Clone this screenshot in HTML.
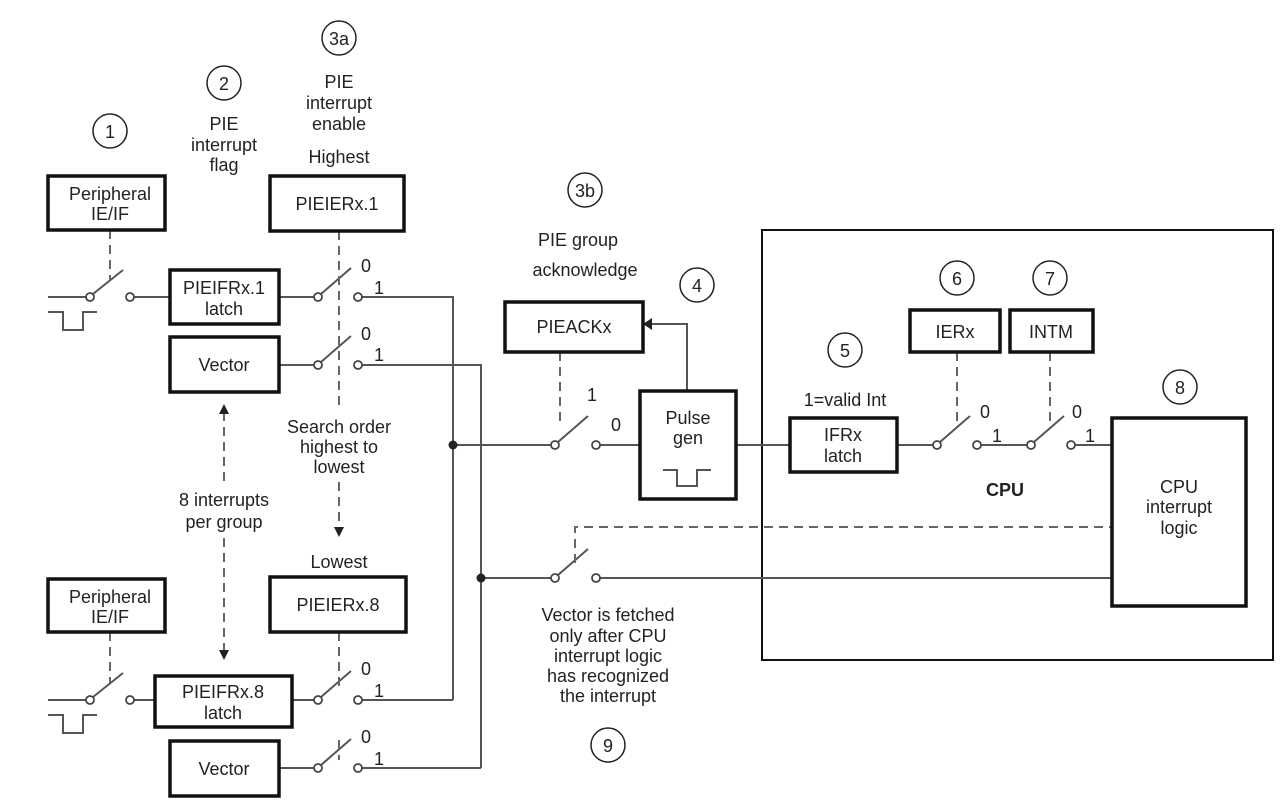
<!DOCTYPE html>
<html><head><meta charset="utf-8"><style>
html,body{margin:0;padding:0;background:#fff;}
svg{display:block;}
text{font-family:"Liberation Sans",sans-serif;font-size:18px;fill:#222;text-anchor:middle;}
.b{fill:#fff;stroke:#111;stroke-width:3.5;}
.l{stroke:#555;stroke-width:2;fill:none;}
.d{stroke:#666;stroke-width:2;fill:none;stroke-dasharray:9,6;}
.c{fill:#fff;stroke:#444;stroke-width:1.8;}
.n{fill:#fff;stroke:#222;stroke-width:1.5;}
</style></head><body>
<svg width="1286" height="805" viewBox="0 0 1286 805" xmlns="http://www.w3.org/2000/svg">
<g>
<circle class="n" cx="110" cy="131" r="17"/><text x="110" y="138">1</text>
<circle class="n" cx="224" cy="83" r="17"/><text x="224" y="90">2</text>
<circle class="n" cx="339" cy="38" r="17"/><text x="339" y="45">3a</text>
<circle class="n" cx="585" cy="190" r="17"/><text x="585" y="197">3b</text>
<circle class="n" cx="697" cy="285" r="17"/><text x="697" y="292">4</text>
<circle class="n" cx="845" cy="350" r="17"/><text x="845" y="357">5</text>
<circle class="n" cx="957" cy="278" r="17"/><text x="957" y="285">6</text>
<circle class="n" cx="1050" cy="278" r="17"/><text x="1050" y="285">7</text>
<circle class="n" cx="1180" cy="387" r="17"/><text x="1180" y="394">8</text>
<circle class="n" cx="608" cy="745" r="17"/><text x="608" y="752">9</text>
</g>
<text x="224" y="130">PIE</text><text x="224" y="151">interrupt</text><text x="224" y="171">flag</text>
<text x="339" y="88">PIE</text><text x="339" y="109">interrupt</text><text x="339" y="130">enable</text>
<text x="339" y="163">Highest</text>
<text x="578" y="246">PIE group</text><text x="585" y="276">acknowledge</text>
<text x="339" y="433">Search order</text><text x="339" y="453">highest to</text><text x="339" y="473">lowest</text>
<text x="224" y="506">8 interrupts</text><text x="224" y="528">per group</text>
<text x="339" y="568">Lowest</text>
<text x="845" y="406">1=valid Int</text>
<text x="1005" y="496" style="font-weight:bold">CPU</text>
<text x="608" y="621">Vector is fetched</text><text x="608" y="642">only after CPU</text><text x="608" y="662">interrupt logic</text><text x="608" y="682">has recognized</text><text x="608" y="702">the interrupt</text>

<rect x="762" y="230" width="511" height="430" fill="none" stroke="#111" stroke-width="2"/>

<g class="l">
<path d="M48 297H86M134 297H170M279 297H314M362 297H453V700"/>
<path d="M48 312H63V330H83V312H97"/>
<path d="M279 365H314M362 365H481V768"/>
<path d="M48 700H86M134 700H155M292 700H314M362 700H453"/>
<path d="M48 715H63V733H83V715H97"/>
<path d="M279 768H314M362 768H481"/>
<path d="M453 445H551M600 445H640M736 445H790M897 445H933M981 445H1027M1075 445H1112"/>
<path d="M481 578H551M600 578H1112"/>
<path d="M687 391V324H650"/>
<path d="M93 294L123 270M93 697L123 673M321 294L351 268M321 362L351 336M321 697L351 671M321 765L351 739M558 442L588 416M558 575L588 549M940 442L970 416M1034 442L1064 416"/>
</g>
<polygon points="643,324 652,318 652,330" fill="#222"/>
<g class="d">
<path d="M110 230V280M110 632V683M339 231V410M339 632V690M339 740V760"/>
<path d="M339 482V528M224 412V482M224 538V650"/>
<path d="M560 352V425M957 352V425M1050 352V425"/>
<path d="M575 563V527H1112"/>
</g>
<polygon points="224,404 219,414 229,414" fill="#222"/>
<polygon points="224,660 219,650 229,650" fill="#222"/>
<polygon points="339,537 334,527 344,527" fill="#222"/>
<circle cx="453" cy="445" r="4.5" fill="#222"/>
<circle cx="481" cy="578" r="4.5" fill="#222"/>
<g class="c">
<circle cx="90" cy="297" r="4"/><circle cx="130" cy="297" r="4"/>
<circle cx="318" cy="297" r="4"/><circle cx="358" cy="297" r="4"/>
<circle cx="318" cy="365" r="4"/><circle cx="358" cy="365" r="4"/>
<circle cx="90" cy="700" r="4"/><circle cx="130" cy="700" r="4"/>
<circle cx="318" cy="700" r="4"/><circle cx="358" cy="700" r="4"/>
<circle cx="318" cy="768" r="4"/><circle cx="358" cy="768" r="4"/>
<circle cx="555" cy="445" r="4"/><circle cx="596" cy="445" r="4"/>
<circle cx="555" cy="578" r="4"/><circle cx="596" cy="578" r="4"/>
<circle cx="937" cy="445" r="4"/><circle cx="977" cy="445" r="4"/>
<circle cx="1031" cy="445" r="4"/><circle cx="1071" cy="445" r="4"/>
</g>
<g>
<text x="366" y="272">0</text><text x="379" y="294">1</text>
<text x="366" y="340">0</text><text x="379" y="361">1</text>
<text x="366" y="675">0</text><text x="379" y="697">1</text>
<text x="366" y="743">0</text><text x="379" y="765">1</text>
<text x="592" y="401">1</text><text x="616" y="431">0</text>
<text x="985" y="418">0</text><text x="997" y="442">1</text>
<text x="1077" y="418">0</text><text x="1090" y="442">1</text>
</g>
<rect class="b" x="48" y="176" width="117" height="54"/><text x="110" y="200">Peripheral</text><text x="110" y="220">IE/IF</text>
<rect class="b" x="270" y="176" width="134" height="55"/><text x="337" y="210">PIEIERx.1</text>
<rect class="b" x="170" y="270" width="109" height="54"/><text x="224" y="294">PIEIFRx.1</text><text x="224" y="315">latch</text>
<rect class="b" x="170" y="337" width="109" height="55"/><text x="224" y="371">Vector</text>
<rect class="b" x="48" y="579" width="117" height="53"/><text x="110" y="603">Peripheral</text><text x="110" y="623">IE/IF</text>
<rect class="b" x="270" y="577" width="136" height="55"/><text x="338" y="611">PIEIERx.8</text>
<rect class="b" x="155" y="676" width="137" height="51"/><text x="223" y="698">PIEIFRx.8</text><text x="223" y="719">latch</text>
<rect class="b" x="170" y="741" width="109" height="55"/><text x="224" y="775">Vector</text>
<rect class="b" x="505" y="302" width="138" height="50"/><text x="574" y="333">PIEACKx</text>
<rect class="b" x="640" y="391" width="96" height="108"/><text x="688" y="424">Pulse</text><text x="688" y="444">gen</text>
<path d="M663 470H677V486H697V470H711" class="l"/>
<rect class="b" x="790" y="418" width="107" height="54"/><text x="843" y="441">IFRx</text><text x="843" y="462">latch</text>
<rect class="b" x="910" y="310" width="90" height="42"/><text x="955" y="338">IERx</text>
<rect class="b" x="1010" y="310" width="83" height="42"/><text x="1051" y="338">INTM</text>
<rect class="b" x="1112" y="418" width="134" height="188"/><text x="1179" y="493">CPU</text><text x="1179" y="513">interrupt</text><text x="1179" y="534">logic</text>
</svg>
</body></html>
